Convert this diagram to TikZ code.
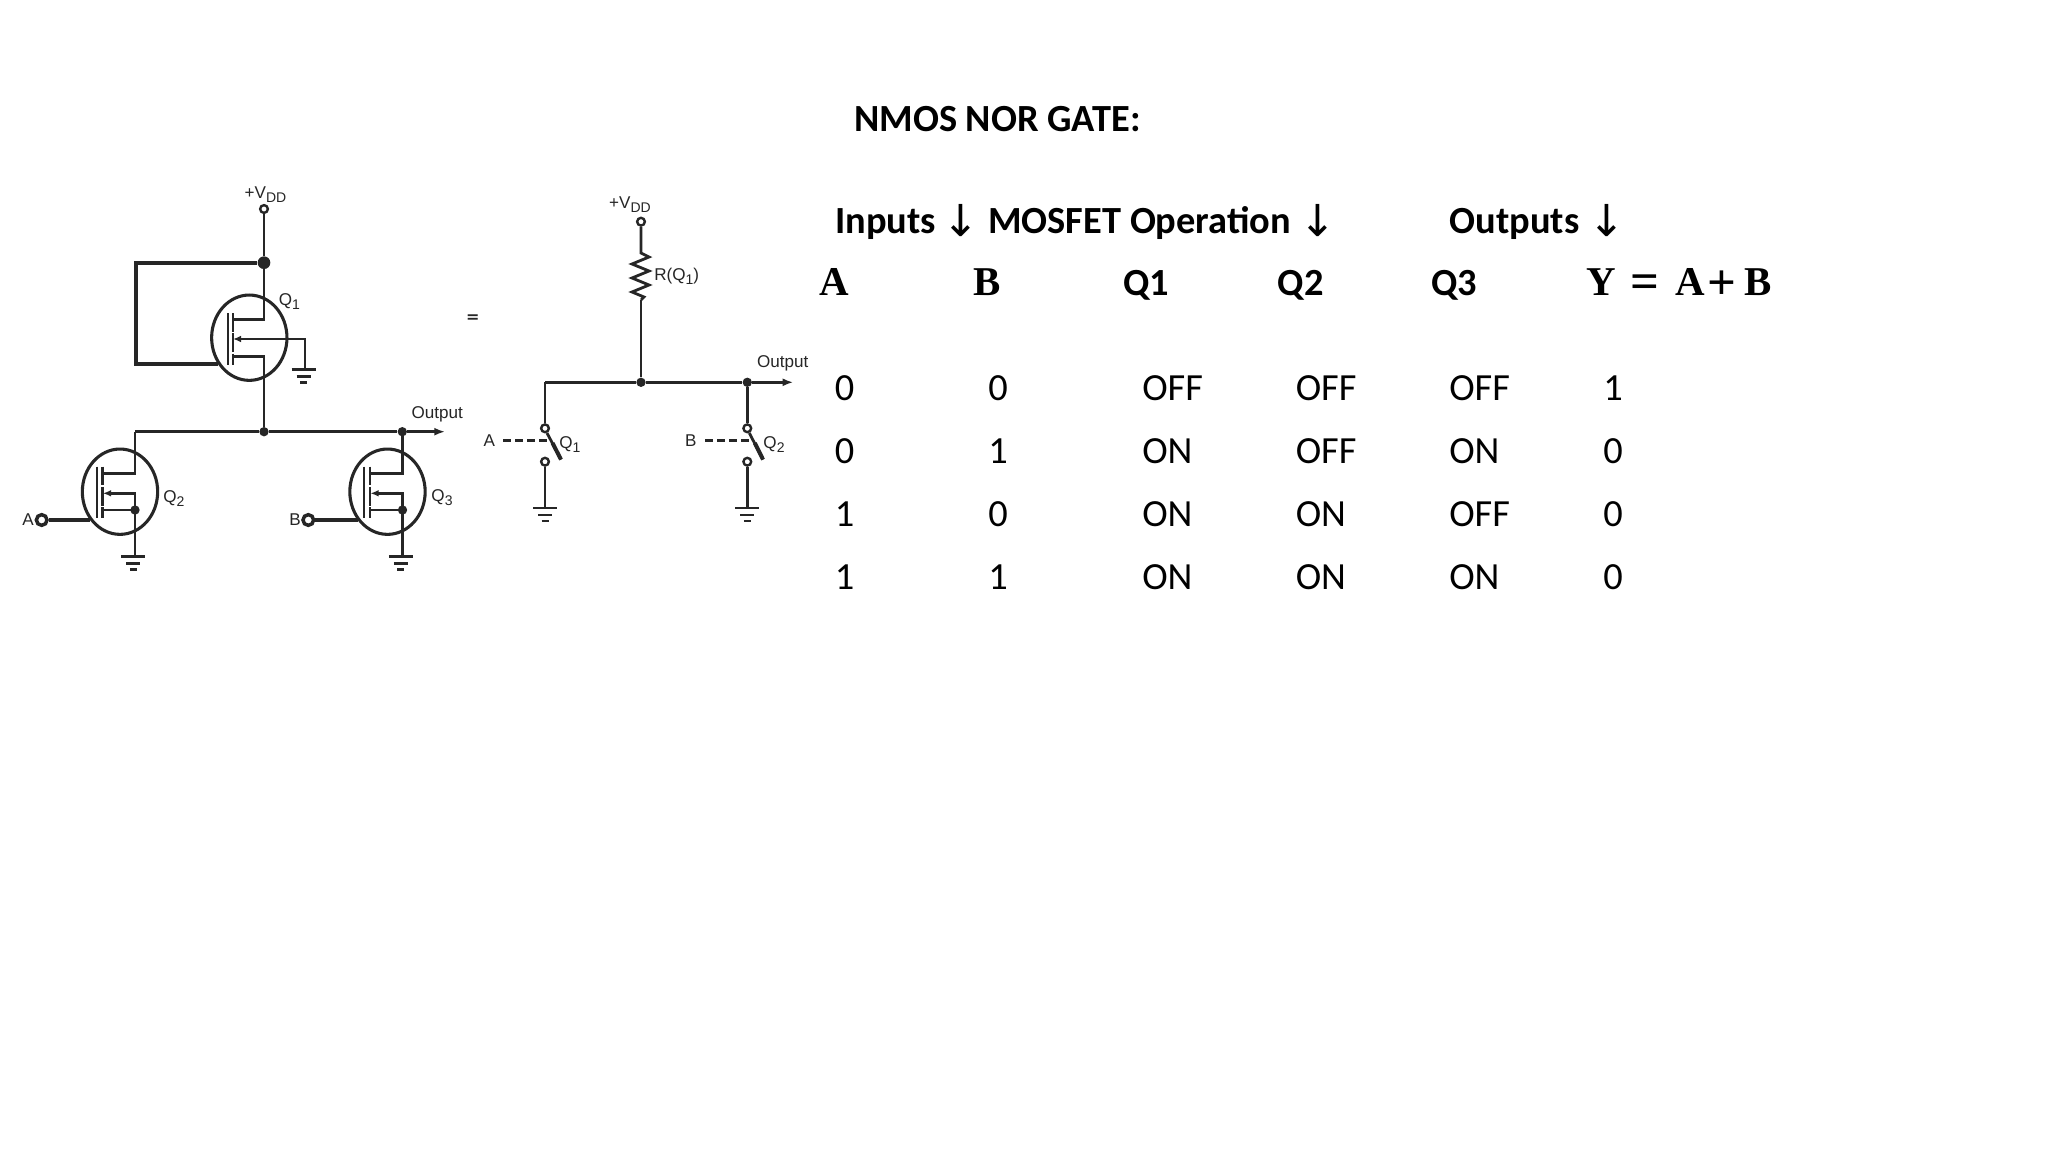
\documentclass[tikz,border=0pt]{standalone}
\usepackage{fontspec}
\setmainfont{Carlito}
\newfontfamily\labelfont{Liberation Sans}
\newfontfamily\mathserif{Liberation Serif}
\newfontfamily\arrowfont{DejaVu Sans}
\usetikzlibrary{arrows.meta,shapes.geometric}
\definecolor{ink}{HTML}{262626}
\tikzset{
  x=0.75pt,y=-0.75pt,
  wire/.style={draw=ink,line width=2.1pt,line join=miter},
  thickwire/.style={draw=ink,line width=3pt,line join=miter},
  plate/.style={draw=ink,line width=1.8pt},
  fetring/.style={ellipse,draw=ink,line width=2.3pt,inner sep=0pt,minimum width=56.5pt,minimum height=64pt},
  dotn/.style={circle,fill=ink,inner sep=0pt,minimum size=7pt},
  bigdot/.style={circle,fill=ink,inner sep=0pt,minimum size=9.5pt},
  term/.style={circle,draw=ink,line width=1.8pt,fill=white,inner sep=0pt,minimum size=5.8pt},
  bigterm/.style={circle,draw=ink,line width=2.6pt,fill=white,inner sep=0pt,minimum size=8pt},
  lab/.style={font=\labelfont\fontsize{12.8pt}{13pt}\selectfont,text=ink,inner sep=0pt},
  head/.style={font=\bfseries\fontsize{28.8pt}{30pt}\selectfont,anchor=base west,inner sep=0pt},
  cell/.style={font=\fontsize{28.8pt}{30pt}\selectfont,anchor=base west,inner sep=0pt},
  mbf/.style={font=\mathserif\bfseries\fontsize{30.7pt}{32pt}\selectfont,anchor=base west,inner sep=0pt},
  mbfop/.style={font=\mathserif\bfseries\fontsize{38pt}{40pt}\selectfont,anchor=base west,inner sep=0pt},
  arrowg/.style={font=\arrowfont\fontsize{33pt}{34pt}\selectfont,anchor=base,inner sep=0pt},
  tip/.style={-{Latex[length=8pt,width=6pt]}},
  bodytip/.style={{Latex[length=6pt,width=5pt]}-},
}
\newcommand{\sbs}[1]{\raisebox{-0.45ex}{\fontsize{10.5pt}{11pt}\selectfont #1}}
\newcommand{\gnd}[2]{%
  \draw[draw=ink,line width=2pt] (#1-12,#2) -- (#1+12,#2);
  \draw[draw=ink,line width=2pt] (#1-7,#2+7) -- (#1+7,#2+7);
  \draw[draw=ink,line width=2pt] (#1-3.5,#2+13) -- (#1+3.5,#2+13);}
\newcommand{\lowerfet}[2]{%
  \node[fetring] (#1ring) at (120+#2,491.7) {};
  \coordinate (#1top) at (135+#2,431.7);
  \coordinate (#1d) at (135+#2,473.3);
  \coordinate (#1dc) at (102+#2,473.3);
  \node[dotn,minimum size=7pt] (#1s) at (135+#2,510) {};
  \coordinate (#1sc) at (102+#2,510);
  \coordinate (#1bc) at (103+#2,493.3);
  \coordinate (#1b) at (135+#2,493.3);
  \coordinate (#1g) at (133.5+#2,556.7);
  \draw[wire] (#1top) -- (#1d) -- (#1dc);
  \draw[wire] (#1sc) -- (#1s.center) -- (135+#2,556.7);
  \draw[wire,bodytip] (#1bc) -- (#1b) -- (#1s.center);
  \draw[plate] (96.7+#2,466.7) -- (96.7+#2,518);
  \draw[plate,dash pattern=on 14pt off 1.2pt] (102.5+#2,466.7) -- (102.5+#2,518);
  \gnd{133.3+#2}{556.7}
}
\begin{document}
\begin{tikzpicture}
\useasboundingbox (0,0) rectangle (2048,1152);
\fill[white] (0,0) rectangle (2048,1152);

% --- left circuit ---
\node[lab] (vddL) at (265.5,195) {+V\sbs{DD}};
\node[term] (vddLt) at (264,209) {};
\node[bigdot] (topL) at (264,262.7) {};
\node[dotn] (junL) at (264,431.7) {};
\node[dotn] (outL) at (402.3,431.7) {};
\coordinate (endL) at (445,431.7);
\coordinate (busL) at (135,431.7);
\node[lab] (outLabL) at (437.3,414.5) {Output};
\draw[wire] (vddLt) -- (topL);
\draw[wire] (busL) -- (junL);
\draw[wire] (junL) -- (outL);
\draw[wire,tip] (outL) -- (endL);

% Q1
\node[fetring] (q1ring) at (249.3,337.7) {};
\coordinate (q1dc) at (232,319.3);
\coordinate (q1d) at (264,319.3);
\coordinate (q1sc) at (232,356.7);
\coordinate (q1s) at (264,356.7);
\coordinate (q1bc) at (233,339);
\coordinate (q1bx) at (305,339);
\coordinate (q1bg) at (305,369.5);
\coordinate (fbA) at (136,262.7);
\coordinate (fbB) at (136,364);
\coordinate (fbC) at (218,364);
\draw[wire] (topL) -- (q1d) -- (q1dc);
\draw[wire] (q1sc) -- (q1s) -- (junL);
\draw[wire,bodytip] (q1bc) -- (q1bx) -- (q1bg);
\draw[plate] (228,313) -- (228,365);
\draw[plate,dash pattern=on 14pt off 1.2pt] (233,313) -- (233,365);
\draw[thickwire] (topL) -- (fbA) -- (fbB) -- (fbC);
\gnd{303.5}{369.5}
\node[lab] (q1L) at (289.5,301.5) {Q\sbs{1}};

% Q2, Q3
\lowerfet{qb}{0}
\lowerfet{qc}{267.5}
\node[lab] (q2L) at (174,498.5) {Q\sbs{2}};
\node[lab] (q3L) at (442,497.5) {Q\sbs{3}};
\node[bigterm] (aT) at (41.7,520) {};
\node[bigterm] (bT) at (308.3,520) {};
\node[lab] (aL) at (28,520) {A};
\node[lab] (bL) at (295,520) {B};
\draw[thickwire] (aT) -- (90,520);
\draw[thickwire] (bT) -- (357.5,520);

\node[font=\arrowfont\bfseries\fontsize{12pt}{13pt}\selectfont,text=ink,inner sep=0pt] (eqL) at (472.7,319) {=};

% --- right circuit ---
\node[lab] (vddR) at (630,205) {+V\sbs{DD}};
\node[term] (vddRt) at (641,221.7) {};
\coordinate (rTop) at (641,253);
\coordinate (rBot) at (641,300);
\node[dotn] (junR) at (641,382.3) {};
\node[dotn] (outR) at (747.3,382.3) {};
\coordinate (cornerR) at (545,382.3);
\coordinate (endR) at (793.3,382.3);
\node[lab] (rL) at (676.7,276.5) {R(Q\sbs{1})};
\node[lab] (outLabR) at (782.7,363.5) {Output};
\draw[wire] (vddRt) -- (rTop)
  -- (649,257) -- (632,264) -- (649,271) -- (632,278) -- (649,285) -- (632,292) -- (644,297) -- (rBot);
\draw[wire] (rBot) -- (junR);
\draw[wire] (cornerR) -- (junR);
\draw[wire] (junR) -- (outR);
\draw[wire,tip] (outR) -- (endR);

\node[term] (s1a) at (545,428.3) {};
\node[term] (s1b) at (545,461.7) {};
\node[term] (s2a) at (747.3,428.3) {};
\node[term] (s2b) at (747.3,461.7) {};
\coordinate (g1) at (545,508);
\coordinate (g2) at (747.3,508);
\coordinate (b1s) at (547,433);
\coordinate (b1e) at (561,459.5);
\coordinate (b2s) at (749.3,433);
\coordinate (b2e) at (763,459.5);
\draw[wire] (cornerR) -- (s1a);
\draw[wire] (outR) -- (s2a);
\draw[wire] (s1b) -- (g1);
\draw[wire] (s2b) -- (g2);
\draw[wire] (b1s) -- (b1e);
\draw[wire] (b2s) -- (b2e);
\draw[wire,line width=3pt] (552.5,443) -- (b1e);
\draw[wire,line width=3pt] (754.8,443) -- (b2e);
\gnd{545}{508}
\gnd{747.3}{508}
\node[lab] (aR) at (489.3,440.5) {A};
\node[lab] (bR) at (690.7,440.5) {B};
\coordinate (d1s) at (503.3,440.7);
\coordinate (d1e) at (549,440.7);
\coordinate (d2s) at (705,440.7);
\coordinate (d2e) at (751,440.7);
\draw[wire,line width=1.9pt,dash pattern=on 6pt off 3pt] (d1s) -- (d1e);
\draw[wire,line width=1.9pt,dash pattern=on 6pt off 3pt] (d2s) -- (d2e);
\node[lab] (q1R) at (569.8,444.5) {Q\sbs{1}};
\node[lab] (q2R) at (774,444.5) {Q\sbs{2}};

% --- text ---
\node[head] (title) at (854,132) {NMOS NOR GATE:};
\node[head] (hInputs) at (835,233) {Inputs};
\node[arrowg] (arr1) at (961,236) {↓};
\node[head] (hMos) at (988,233) {MOSFET Operation};
\node[arrowg] (arr2) at (1318,236) {↓};
\node[head] (hOut) at (1449.5,233) {Outputs};
\node[arrowg] (arr3) at (1606.5,236) {↓};

\node[mbf] (hA) at (819.5,295) {A};
\node[mbf] (hB) at (973,295) {B};
\node[head] (hQ1) at (1123,295) {Q1};
\node[head] (hQ2) at (1277.5,295) {Q2};
\node[head] (hQ3) at (1431,295) {Q3};
\node[mbf] (hY) at (1586,295) {Y};
\node[mbfop] (hEq) at (1630,298) {=};
\node[mbf] (hA2) at (1675,295) {A};
\node[mbfop] (hPlus) at (1707,299) {+};
\node[mbf] (hB2) at (1744,295) {B};

\node[cell] (a1) at (834.5,400) {0};
\node[cell] (b1) at (988,400) {0};
\node[cell] (c1) at (1142,400) {OFF};
\node[cell] (d1) at (1295.5,400) {OFF};
\node[cell] (e1) at (1449,400) {OFF};
\node[cell] (f1) at (1603,400) {1};

\node[cell] (a2) at (834.5,463) {0};
\node[cell] (b2) at (988,463) {1};
\node[cell] (c2) at (1142,463) {ON};
\node[cell] (d2) at (1295.5,463) {OFF};
\node[cell] (e2) at (1449,463) {ON};
\node[cell] (f2) at (1603,463) {0};

\node[cell] (a3) at (834.5,526) {1};
\node[cell] (b3) at (988,526) {0};
\node[cell] (c3) at (1142,526) {ON};
\node[cell] (d3) at (1295.5,526) {ON};
\node[cell] (e3) at (1449,526) {OFF};
\node[cell] (f3) at (1603,526) {0};

\node[cell] (a4) at (834.5,589) {1};
\node[cell] (b4) at (988,589) {1};
\node[cell] (c4) at (1142,589) {ON};
\node[cell] (d4) at (1295.5,589) {ON};
\node[cell] (e4) at (1449,589) {ON};
\node[cell] (f4) at (1603,589) {0};
\end{tikzpicture}
\end{document}
